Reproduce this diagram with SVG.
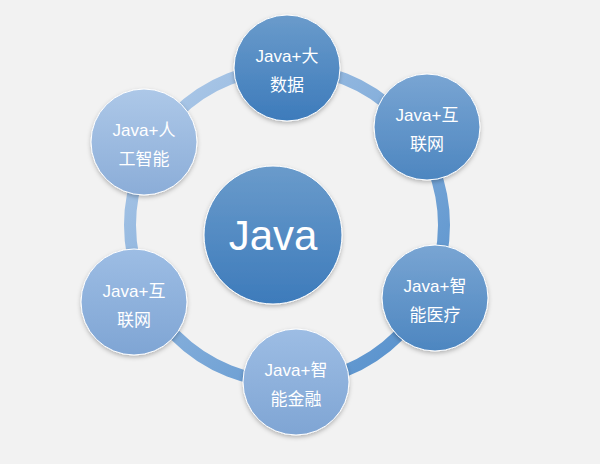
<svg xmlns="http://www.w3.org/2000/svg" width="600" height="464" viewBox="0 0 600 464">
<defs>
<linearGradient id="ring" x1="0" y1="0" x2="1" y2="1"><stop offset="0" stop-color="#b4cdea"/><stop offset="1" stop-color="#4f8cca"/></linearGradient>
<linearGradient id="gDark" x1="0" y1="0" x2="0" y2="1"><stop offset="0" stop-color="#6a9bcb"/><stop offset="1" stop-color="#3d7bbb"/></linearGradient>
<linearGradient id="gMid" x1="0" y1="0" x2="0" y2="1"><stop offset="0" stop-color="#79a5d3"/><stop offset="1" stop-color="#4d86c0"/></linearGradient>
<linearGradient id="gLight" x1="0" y1="0" x2="0" y2="1"><stop offset="0" stop-color="#adc8e8"/><stop offset="1" stop-color="#8badd8"/></linearGradient>
<linearGradient id="gLight2" x1="0" y1="0" x2="0" y2="1"><stop offset="0" stop-color="#9dbde4"/><stop offset="1" stop-color="#7fa5d4"/></linearGradient>
<filter id="sh" x="-20%" y="-20%" width="140%" height="150%"><feDropShadow dx="0" dy="2" stdDeviation="2" flood-color="#000" flood-opacity="0.25"/></filter>
</defs>
<style>
.n{stroke:#fff;stroke-width:1;filter:url(#sh)}
.t{font-family:"Liberation Sans","Noto Sans CJK SC",sans-serif;font-size:17px;fill:#fff;text-anchor:middle}
</style>
<rect width="600" height="464" fill="#f2f2f2"/>
<g id="connectors"><circle cx="287" cy="225" r="157" fill="none" stroke="url(#ring)" stroke-width="12"/></g>
<g id="center"><circle class="n" cx="273" cy="235" r="69" fill="url(#gDark)"/><text class="t" x="273" y="250" style="font-size:42px">Java</text></g>
<g id="n1"><circle class="n" cx="287" cy="68" r="53" fill="url(#gDark)"/><text class="t" x="287" y="62">Java+大</text><text class="t" x="287" y="91">数据</text></g>
<g id="n2"><circle class="n" cx="427" cy="127" r="53" fill="url(#gMid)"/><text class="t" x="427" y="121">Java+互</text><text class="t" x="427" y="150">联网</text></g>
<g id="n3"><circle class="n" cx="435" cy="298" r="53" fill="url(#gMid)"/><text class="t" x="435" y="292">Java+智</text><text class="t" x="435" y="321">能医疗</text></g>
<g id="n4"><circle class="n" cx="296" cy="382" r="53" fill="url(#gLight2)"/><text class="t" x="296" y="376">Java+智</text><text class="t" x="296" y="405">能金融</text></g>
<g id="n5"><circle class="n" cx="134" cy="302" r="53" fill="url(#gLight2)"/><text class="t" x="134" y="297">Java+互</text><text class="t" x="134" y="326">联网</text></g>
<g id="n6"><circle class="n" cx="144" cy="142" r="53" fill="url(#gLight)"/><text class="t" x="144" y="136">Java+人</text><text class="t" x="144" y="165">工智能</text></g>
</svg>
